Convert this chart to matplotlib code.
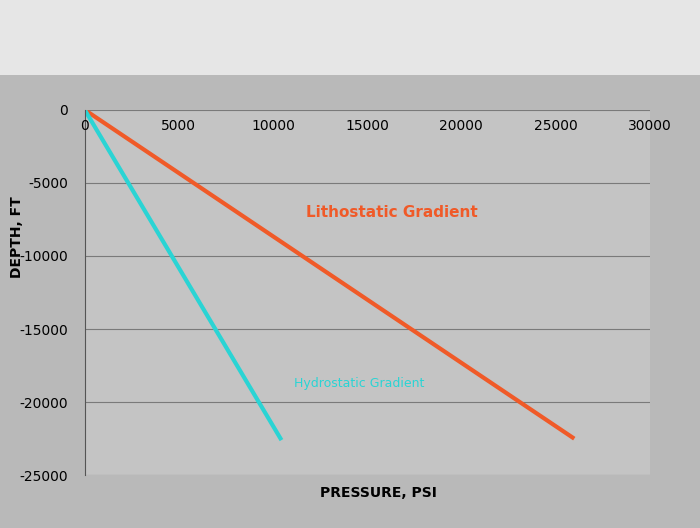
import matplotlib
matplotlib.use("Agg")
import matplotlib.pyplot as plt
from matplotlib.patches import Rectangle

# pressure (psi) vs depth (ft)
litho_psi = [0, 26000]
litho_depth = [0, -22500]
hydro_psi = [0, 10450]
hydro_depth = [0, -22600]
xticks = [0, 5000, 10000, 15000, 20000, 25000, 30000]
yticks = [0, -5000, -10000, -15000, -20000, -25000]

ORANGE = "#f05a28"
CYAN = "#2ad4d4"

fig = plt.figure(figsize=(7, 5.28), dpi=100)
fig.patch.set_facecolor("#b9b9b9")
fig.add_artist(Rectangle((0, 1 - 75 / 528), 1, 75 / 528, transform=fig.transFigure,
                         facecolor="#e6e6e6", edgecolor="none", zorder=0))

ax = fig.add_axes([0.121, 0.100, 0.807, 0.692])
ax.set_facecolor("#c4c4c4")
ax.plot(litho_psi, litho_depth, color=ORANGE, lw=3, solid_capstyle="butt")
ax.plot(hydro_psi, hydro_depth, color=CYAN, lw=3, solid_capstyle="butt")

ax.set_xlim(0, 30000)
ax.set_ylim(-25000, 0)
ax.set_yticks(yticks)
ax.set_yticklabels([str(v) for v in yticks], fontsize=10)
ax.set_xticks([])
for x in xticks:
    ax.text(x, -600, str(x), ha="center", va="top", fontsize=10)
ax.grid(axis="y", color="#7a7a7a", lw=0.8)
for s in ("top", "right", "bottom"):
    ax.spines[s].set_visible(False)
ax.spines["left"].set_color("#555555")
ax.tick_params(axis="y", length=0, pad=12)

ax.text(16300, -7050, "Lithostatic Gradient", color=ORANGE, fontsize=11,
        fontweight="bold", ha="center", va="center")
ax.text(14600, -18700, "Hydrostatic Gradient", color=CYAN, fontsize=9,
        ha="center", va="center")

fig.text(0.024, 0.55, "DEPTH, FT", rotation=90, ha="center", va="center",
         fontsize=10, fontweight="bold")
fig.text(0.54, 0.066, "PRESSURE, PSI", ha="center", va="center", fontsize=10,
         fontweight="bold")

fig.savefig("out.png", dpi=100)
